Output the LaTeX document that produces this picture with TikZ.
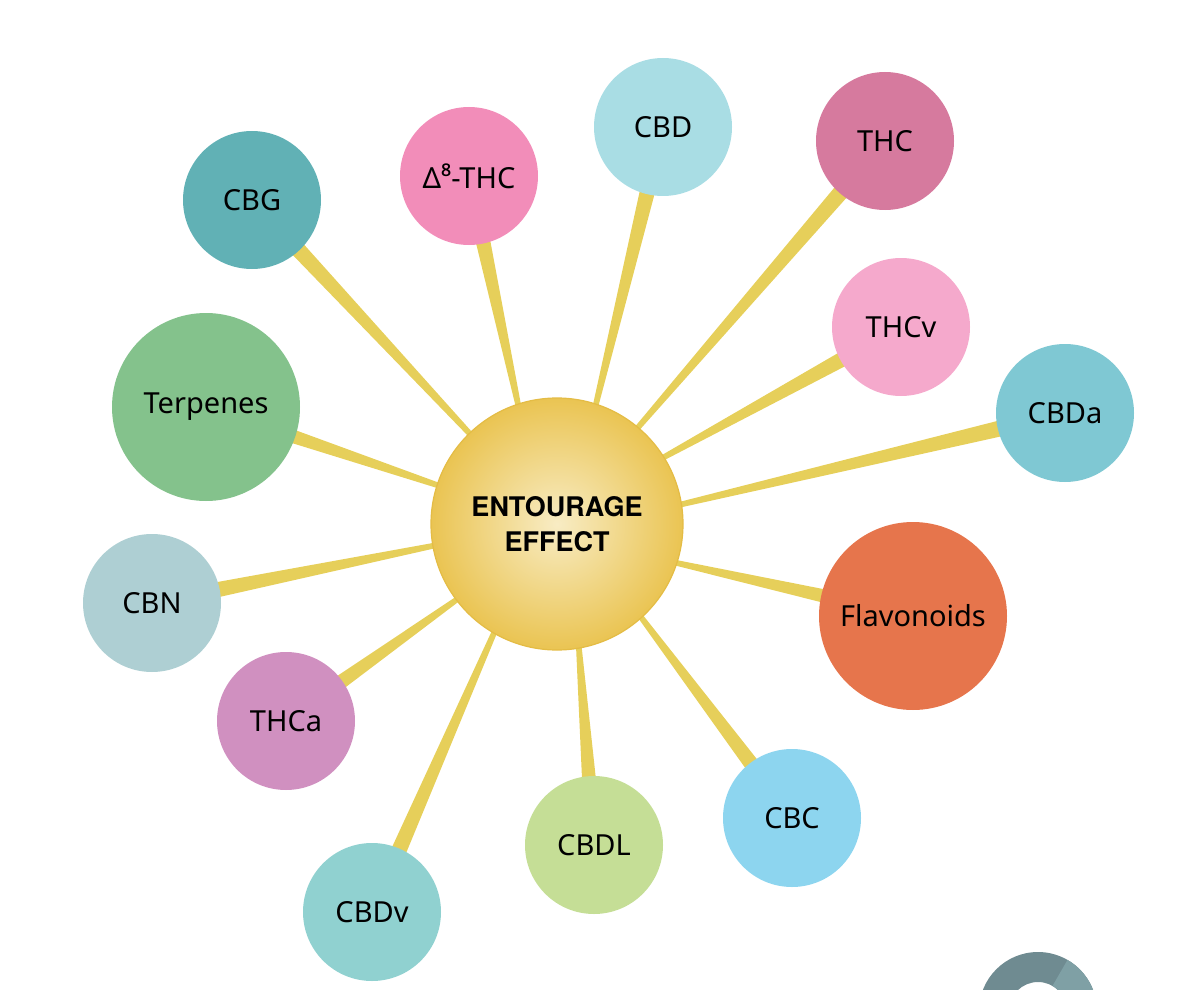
\documentclass[tikz,border=0pt]{standalone}
\usepackage{fontspec}
\setmainfont{Noto Sans}
\newfontfamily\titlefont{TeX Gyre Heros}
\usetikzlibrary{calc,backgrounds}
\definecolor{cCBG}{HTML}{61B1B5}
\definecolor{cDTHC}{HTML}{F28DB9}
\definecolor{cCBD}{HTML}{A9DDE4}
\definecolor{cTHC}{HTML}{D67A9E}
\definecolor{cTHCv}{HTML}{F5A9CC}
\definecolor{cCBDa}{HTML}{7FC8D3}
\definecolor{cTerp}{HTML}{84C28C}
\definecolor{cFlav}{HTML}{E6754C}
\definecolor{cCBN}{HTML}{AECFD3}
\definecolor{cTHCa}{HTML}{D090C0}
\definecolor{cCBDv}{HTML}{90D1D0}
\definecolor{cCBDL}{HTML}{C5DE96}
\definecolor{cCBC}{HTML}{8DD5EF}
\definecolor{spokecol}{HTML}{E6CF5A}
\definecolor{ctrin}{HTML}{F8ECC4}
\definecolor{ctrout}{HTML}{EAC452}
\definecolor{ctredge}{HTML}{E4BC45}
\definecolor{ringdark}{HTML}{6F8B91}
\definecolor{ringlight}{HTML}{7FA0A5}
% tapered connector from an outer node (#1) to the centre node at anchor angle #2
\newcommand\spoke[2]{%
  \path ($(#1.center)!1.04!(ctr.#2)$) coordinate (sp-#1);
  \fill[spokecol] ($(#1.center)!4.5pt!90:(sp-#1)$) --
    ($(sp-#1)!1.3pt!-90:(#1.center)$) --
    ($(sp-#1)!1.3pt!90:(#1.center)$) --
    ($(#1.center)!4.5pt!-90:(sp-#1)$) -- cycle;}
\begin{document}
\begin{tikzpicture}[x=0.5pt,y=-0.5pt,
  bub/.style={circle, inner sep=0pt, minimum size=69pt, font=\fontsize{14.5}{17}\selectfont, text=black},
  bigbub/.style={bub, minimum size=94pt}]
\useasboundingbox (0,0) rectangle (1200,990);
\node[bub, fill=cCBG] (cbg) at (252,200) {CBG};
\node[bub, fill=cDTHC] (dthc) at (469,176) {Δ⁸-THC};
\node[bub, fill=cCBD] (cbd) at (663,127) {CBD};
\node[bub, fill=cTHC] (thc) at (885,141) {THC};
\node[bub, fill=cTHCv] (thcv) at (901,327) {THCv};
\node[bub, fill=cCBDa] (cbda) at (1065,413) {CBDa};
\node[bigbub, fill=cTerp] (terp) at (206,407) {Terpenes};
\node[bigbub, fill=cFlav] (flav) at (913,616) {Flavonoids};
\node[bub, fill=cCBN] (cbn) at (152,603) {CBN};
\node[bub, fill=cTHCa] (thca) at (286,721) {THCa};
\node[bub, fill=cCBDv] (cbdv) at (372,912) {CBDv};
\node[bub, fill=cCBDL] (cbdl) at (594,845) {CBDL};
\node[bub, fill=cCBC] (cbc) at (792,818) {CBC};
\node[circle, inner sep=0pt, minimum size=126pt, inner color=ctrin, outer color=ctrout,
  draw=ctredge, line width=0.6pt, align=center,
  font=\titlefont\bfseries\fontsize{13.5}{17.5}\selectfont] (ctr) at (557,524) {ENTOURAGE\\EFFECT};
\begin{scope}[on background layer]
\foreach \n/\a in {cbg/134, dthc/108.5, cbd/72.5, thc/50, thcv/32, cbda/9, terp/162,
  flav/-18, cbc/-48, cbdl/-80.5, cbdv/-120.5, thca/-143.5, cbn/190}{\spoke{\n}{\a}}
\end{scope}
\begin{scope}
\clip (0,0) rectangle (1200,990);
\fill[ringdark, even odd rule] (1038,1011) circle[radius=59] (1038,1011) circle[radius=29];
\fill[ringlight] (1038,1011) ++(-60:59) arc[start angle=-60, end angle=10, radius=59]
  -- ($(1038,1011)+(10:29)$) arc[start angle=10, end angle=-60, radius=29] -- cycle;
\end{scope}
\end{tikzpicture}
\end{document}
